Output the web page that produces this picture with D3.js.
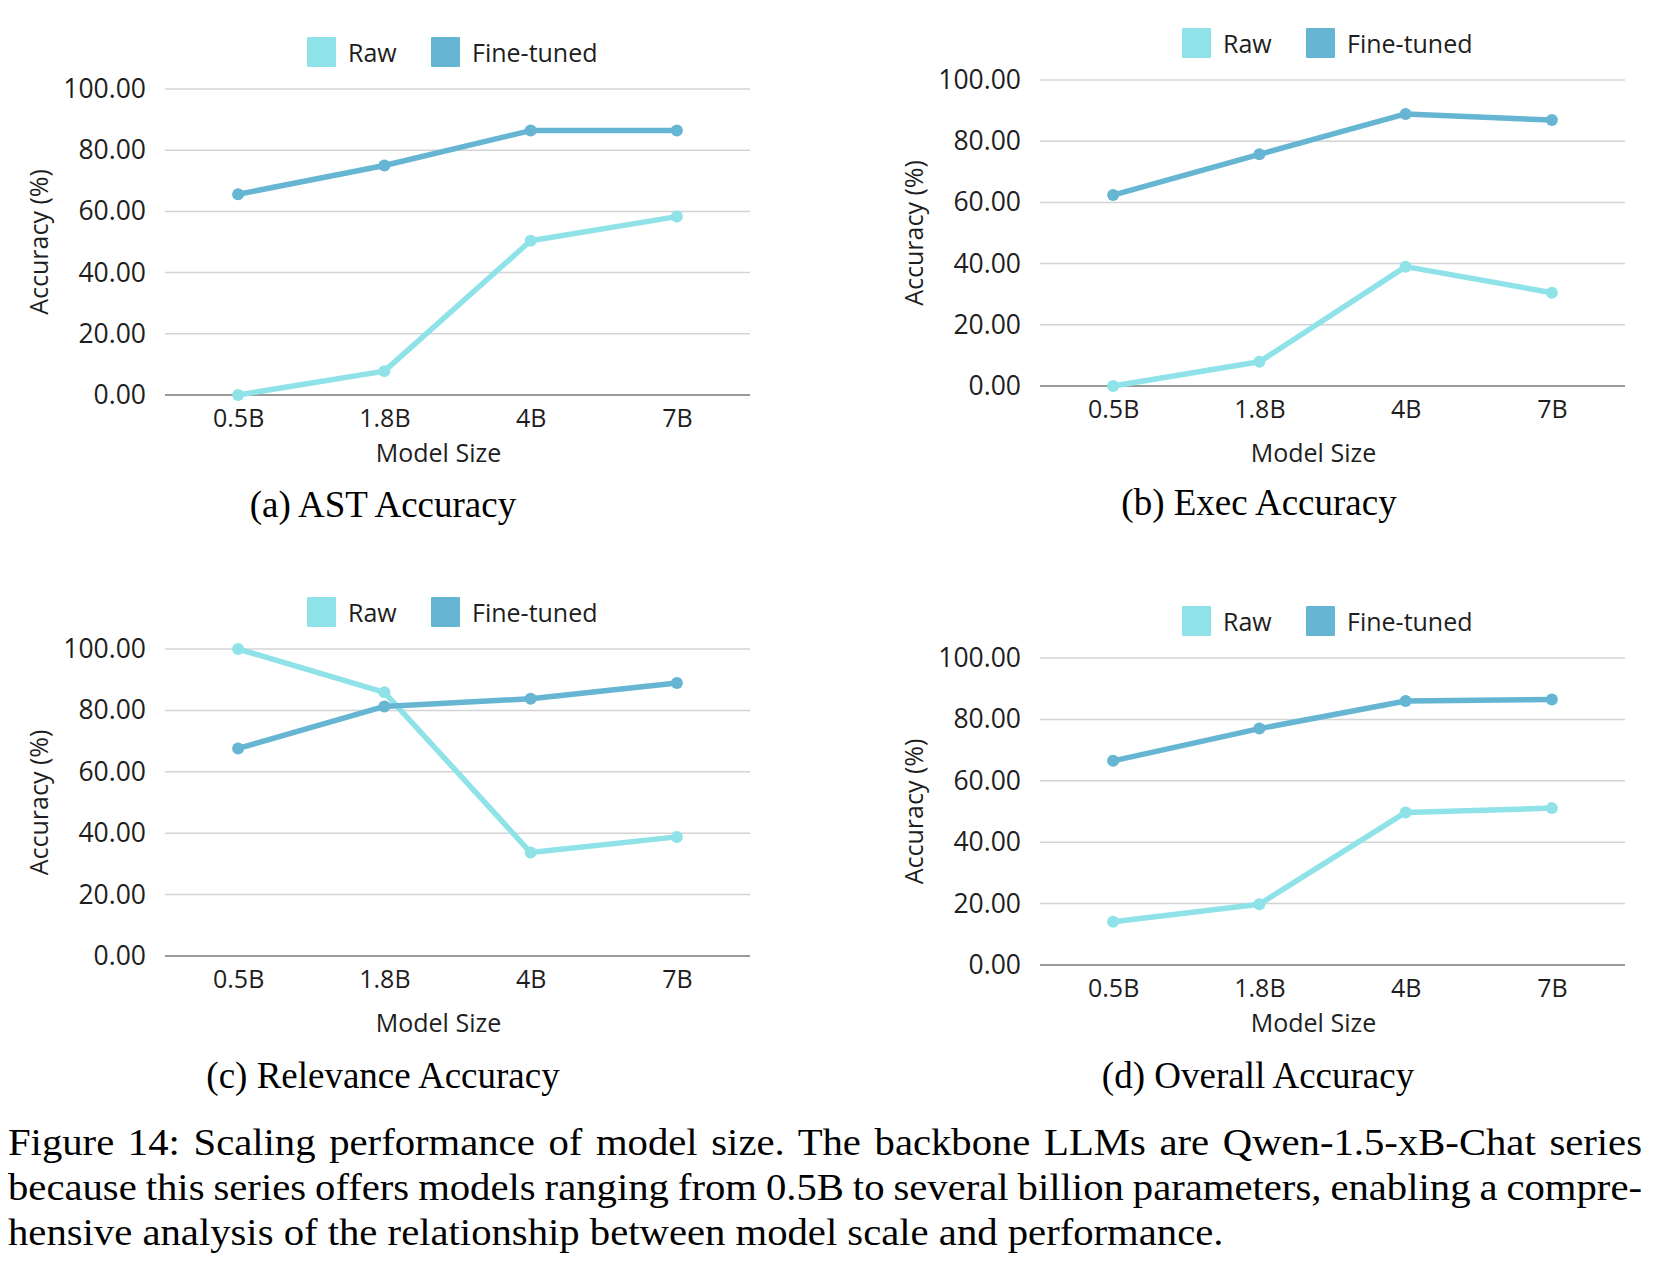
<!DOCTYPE html>
<html lang="en">
<head>
	<meta charset="utf-8">
	<title>Scaling performance of model size</title>
	<script src="https://cdn.jsdelivr.net/npm/d3@7/dist/d3.min.js"></script>
	<style>
		body {
			margin: 0;
			background: #fff;
		}
		.tick-label, .legend-label, .axis-title {
			font-family: "Open Sans", sans-serif;
			font-size: 25px;
			fill: #1e1e1e;
		}
		.y-tick { font-size: 26.5px; }
		.sub-caption, .fig-caption {
			font-family: "Liberation Serif", "Times New Roman", serif;
			fill: #000;
		}
		.sub-caption { font-size: 37px; }
		.fig-caption { font-size: 37px; }
	</style>
</head>
<body>
	<script>
		// Data
		var sizes = ["0.5B", "1.8B", "4B", "7B"];
		var seriesNames = ["Raw", "Fine-tuned"];
		var yTicks = [0, 20, 40, 60, 80, 100];

		var astRaw  = [0, 7.8, 50.4, 58.3];
		var astFine = [65.6, 75.0, 86.4, 86.4];
		var execRaw  = [0, 7.9, 39.0, 30.5];
		var execFine = [62.4, 75.7, 88.9, 86.9];
		var relRaw  = [100, 85.9, 33.7, 38.8];
		var relFine = [67.6, 81.3, 83.8, 88.9];
		var allRaw  = [14.1, 19.8, 49.7, 51.1];
		var allFine = [66.5, 77.0, 86.0, 86.5];

		var subCaptions = ["(a) AST Accuracy", "(b) Exec Accuracy", "(c) Relevance Accuracy", "(d) Overall Accuracy"];
		var captionLines = [
			"Figure 14: Scaling performance of model size. The backbone LLMs are Qwen-1.5-xB-Chat series",
			"because this series offers models ranging from 0.5B to several billion parameters, enabling a compre-",
			"hensive analysis of the relationship between model scale and performance."
		];

		var colors = { "Raw": "#8fe3e8", "Fine-tuned": "#66b6d3" };

		var width = 1668;
		var height = 1274;

		var svg = d3.select("body")
			.append("svg")
			.attr("width", width)
			.attr("height", height);

		// panel placement: plot box, x-title row and caption row
		var panels = [
			{ raw: astRaw,  fine: astFine,  left: 165,  top: 89,  bottom: 395, titleY: 452,  capY: 505,  capX: 383 },
			{ raw: execRaw, fine: execFine, left: 1040, top: 80,  bottom: 386, titleY: 452,  capY: 503,  capX: 1259 },
			{ raw: relRaw,  fine: relFine,  left: 165,  top: 649, bottom: 956, titleY: 1022, capY: 1076, capX: 383 },
			{ raw: allRaw,  fine: allFine,  left: 1040, top: 658, bottom: 965, titleY: 1022, capY: 1076, capX: 1258 }
		];
		var plotW = 585;

		panels.forEach(function(p, i) {
			var g = svg.append("g");

			var x = d3.scalePoint()
				.domain(sizes)
				.range([p.left, p.left + plotW])
				.padding(0.5);

			var y = d3.scaleLinear()
				.domain([0, 100])
				.range([p.bottom, p.top]);

			// gridlines
			g.selectAll(".grid")
				.data(yTicks)
				.enter()
				.append("line")
				.attr("x1", p.left)
				.attr("x2", p.left + plotW)
				.attr("y1", function(d) { return y(d); })
				.attr("y2", function(d) { return y(d); })
				.attr("stroke", function(d) { return d === 0 ? "#9a9a9a" : "#d4d4d4"; })
				.attr("stroke-width", function(d) { return d === 0 ? 2 : 1.5; });

			// y axis, text only
			var yAxis = d3.axisLeft(y)
				.tickValues(yTicks)
				.tickFormat(d3.format(".2f"))
				.tickSize(0)
				.tickPadding(19);
			var ya = g.append("g")
				.attr("transform", "translate(" + p.left + ",0)")
				.call(yAxis);
			ya.select(".domain").remove();
			ya.selectAll("text")
				.attr("class", "tick-label y-tick")
				.attr("font-family", null)
				.attr("font-size", null)
				.attr("fill", null);

			// x axis, text only
			var xAxis = d3.axisBottom(x)
				.tickSize(0)
				.tickPadding(14);
			var xa = g.append("g")
				.attr("transform", "translate(0," + p.bottom + ")")
				.call(xAxis);
			xa.select(".domain").remove();
			xa.selectAll("text")
				.attr("class", "tick-label")
				.attr("font-family", null)
				.attr("font-size", null)
				.attr("fill", null);

			// axis titles
			g.append("text")
				.attr("class", "axis-title")
				.attr("x", p.left + plotW / 2 - 19)
				.attr("y", p.titleY)
				.attr("text-anchor", "middle")
				.attr("dominant-baseline", "central")
				.text("Model Size");

			g.append("text")
				.attr("class", "axis-title")
				.attr("transform", "translate(" + (p.left - 127) + "," + ((p.top + p.bottom) / 2) + ") rotate(-90)")
				.attr("text-anchor", "middle")
				.attr("dominant-baseline", "central")
				.text("Accuracy (%)");

			// lines + markers
			var line = d3.line()
				.x(function(d, j) { return x(sizes[j]); })
				.y(function(d) { return y(d); });

			[["Raw", p.raw], ["Fine-tuned", p.fine]].forEach(function(s) {
				g.append("path")
					.datum(s[1])
					.attr("fill", "none")
					.attr("stroke", colors[s[0]])
					.attr("stroke-width", 5.5)
					.attr("stroke-linejoin", "round")
					.attr("d", line);
				g.selectAll(".pt-" + s[0])
					.data(s[1])
					.enter()
					.append("circle")
					.attr("cx", function(d, j) { return x(sizes[j]); })
					.attr("cy", function(d) { return y(d); })
					.attr("r", 6)
					.attr("fill", colors[s[0]]);
			});

			// legend
			var legY = p.top - 37;
			var leg = g.append("g");
			var offs = [0, 124];
			seriesNames.forEach(function(name, k) {
				var lx = p.left + 142 + offs[k];
				leg.append("rect")
					.attr("x", lx)
					.attr("y", legY - 15)
					.attr("width", 29)
					.attr("height", 30)
					.attr("rx", 1)
					.attr("fill", colors[name]);
				leg.append("text")
					.attr("class", "legend-label")
					.attr("x", lx + 41)
					.attr("y", legY)
					.attr("dominant-baseline", "central")
					.text(name);
			});

			// sub-caption
			g.append("text")
				.attr("class", "sub-caption")
				.attr("x", p.capX)
				.attr("y", p.capY + 12)
				.attr("text-anchor", "middle")
				.text(subCaptions[i]);
		});

		// figure caption, first two lines justified; the scan is a bit wider than tall
		var capLeft = 8, capRight = 1642, stretch = 1.1;
		var baselines = [1155, 1200, 1245];
		captionLines.forEach(function(t, i) {
			var txt = svg.append("text")
				.attr("class", "fig-caption")
				.attr("transform", "translate(" + capLeft + "," + baselines[i] + ") scale(" + stretch + ",1)")
				.text(t);
			if (i < 2) {
				var w = txt.node().getComputedTextLength();
				var gaps = t.split(" ").length - 1;
				txt.attr("word-spacing", ((capRight - capLeft) / stretch - w) / gaps);
			}
		});
	</script>
</body>
</html>
